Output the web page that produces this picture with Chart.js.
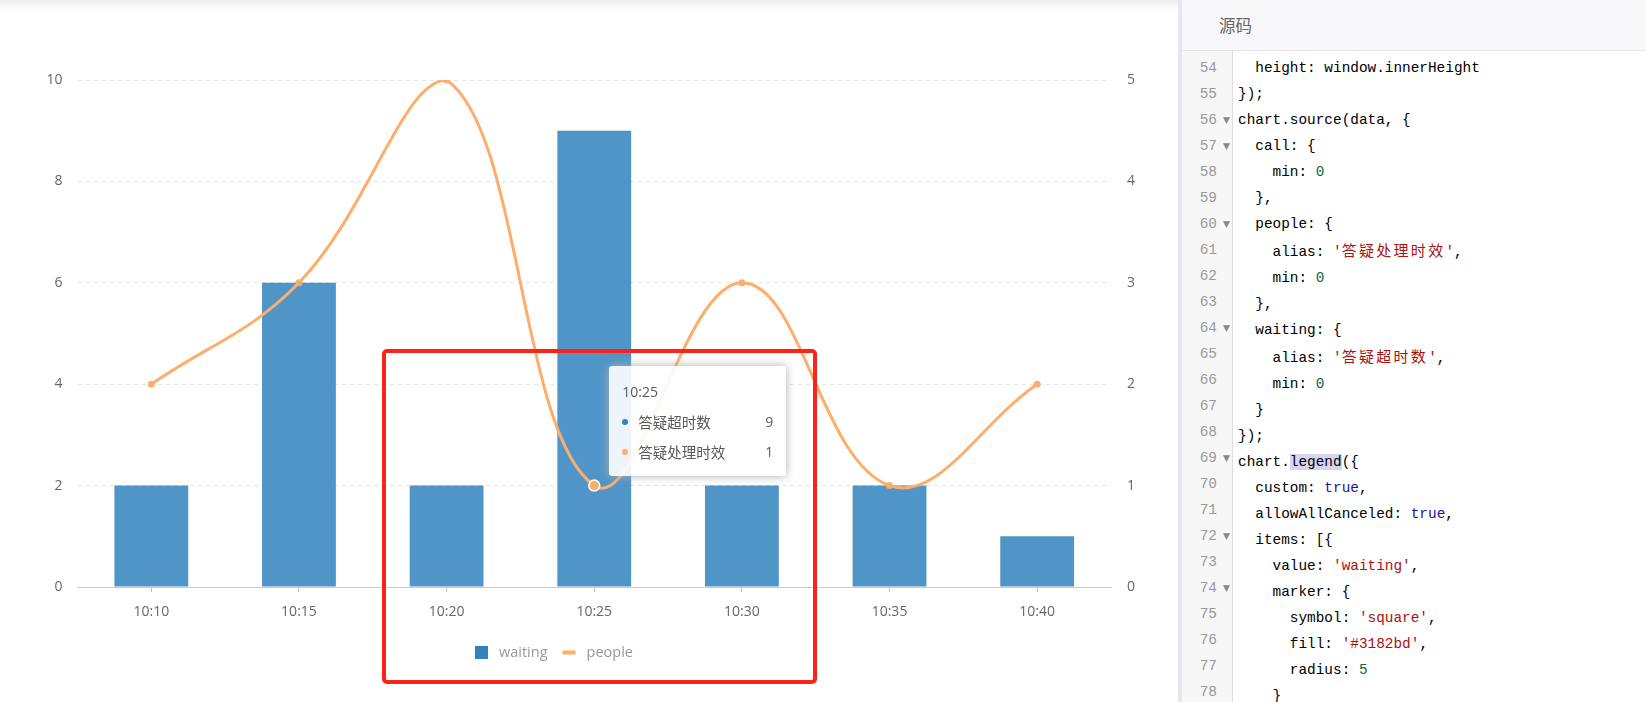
<!DOCTYPE html>
<html>
<head>
<meta charset="utf-8">
<script src="https://cdn.jsdelivr.net/npm/chart.js@4.4.0/dist/chart.umd.min.js"></script>
<style>
  html, body { margin: 0; padding: 0; background: #fff; overflow: hidden; }
  body { width: 1646px; height: 702px; position: relative; font-family: "Open Sans", "Noto Sans CJK SC", sans-serif; }
  #chart-box { position: absolute; left: 0; top: 0; width: 1178px; height: 702px; }
  #top-shade { position: absolute; left: 0; top: 0; width: 1178px; height: 10px;
    background: linear-gradient(#eeeeee, rgba(255,255,255,0)); pointer-events: none; }
  #mark { position: absolute; left: 382px; top: 349px; width: 435px; height: 335px; box-sizing: border-box;
    border: 4px solid #ff2218; border-radius: 5px; pointer-events: none; z-index: 5; }
  #tip { position: absolute; display: none; width: 177px; box-sizing: border-box; padding: 11px 13px 9px 13px;
    background: rgba(255,255,255,0.9); box-shadow: 0 0 10px #aeaeae; border-radius: 3px; color: #595959;
    font-family: "Noto Sans CJK SC", sans-serif; font-size: 14.5px; z-index: 4; }
  #tip .t { line-height: 30px; font-family: "Open Sans", sans-serif; font-size: 14px; }
  #tip .r { line-height: 30px; display: flex; align-items: center; }
  #tip .d { width: 6px; height: 6px; border-radius: 50%; margin-right: 10px; }
  #tip .n { flex: 1; }
  #tip .v { font-family: "Open Sans", sans-serif; font-size: 14px; }

  #panel { position: absolute; left: 1178px; top: 0; width: 468px; height: 702px; background: #fff; }
  #panel .strip { position: absolute; left: 0; top: 0; width: 4px; height: 702px; background: #e6e6ee; }
  #panel .head { position: absolute; left: 4px; top: 0; right: 0; height: 50px; background: #f8f8fa;
    border-bottom: 1px solid #e6e6e6; }
  #panel .head span { position: absolute; left: 37px; top: 13px; font-family: "Noto Sans CJK SC", sans-serif;
    font-size: 16.5px; color: #666; }
  #panel .gut { position: absolute; left: 4px; top: 51px; width: 50px; height: 651px; background: #f7f7f7;
    border-right: 1px solid #dedede; }
  #panel .nums, #panel .code { position: absolute; top: 55px; font-family: "Liberation Mono", monospace;
    font-size: 14.4px; line-height: 26px; }
  #panel .code div { white-space: pre; }
  #panel .nums { left: 4px; width: 35px; text-align: right; color: #999; }
  #panel .nums div { position: relative; height: 26px; }
  #panel .nums i { position: absolute; left: 41px; top: 0; font-style: normal; font-size: 9px; color: #888;
    font-family: "DejaVu Sans", sans-serif; }
  #panel .code { left: 60px; color: #000; }
  .s { color: #aa1111; }
  .m { color: #116644; }
  .a { color: #221199; }
  .cj { font-family: "Noto Sans CJK SC", sans-serif; font-size: 15px; letter-spacing: 2.3px; }
  .hl { background: #d8d4f0; }
</style>
</head>
<body>
<div id="chart-box"><canvas id="chart"></canvas></div>
<div id="top-shade"></div>
<div id="tip"></div>
<div id="mark"></div>

<div id="panel">
  <div class="strip"></div>
  <div class="head"><span>源码</span></div>
  <div class="gut"></div>
  <div class="nums"><div>54</div><div>55</div><div>56<i>▼</i></div><div>57<i>▼</i></div><div>58</div><div>59</div><div>60<i>▼</i></div><div>61</div><div>62</div><div>63</div><div>64<i>▼</i></div><div>65</div><div>66</div><div>67</div><div>68</div><div>69<i>▼</i></div><div>70</div><div>71</div><div>72<i>▼</i></div><div>73</div><div>74<i>▼</i></div><div>75</div><div>76</div><div>77</div><div>78</div></div>
  <div class="code"><div>  height: window.innerHeight</div><div>});</div><div>chart.source(data, {</div><div>  call: {</div><div>    min: <span class="m">0</span></div><div>  },</div><div>  people: {</div><div>    alias: <span class="s">'<span class="cj">答疑处理时效</span>'</span>,</div><div>    min: <span class="m">0</span></div><div>  },</div><div>  waiting: {</div><div>    alias: <span class="s">'<span class="cj">答疑超时数</span>'</span>,</div><div>    min: <span class="m">0</span></div><div>  }</div><div>});</div><div>chart.<span class="hl">legend</span>({</div><div>  custom: <span class="a">true</span>,</div><div>  allowAllCanceled: <span class="a">true</span>,</div><div>  items: [{</div><div>    value: <span class="s">'waiting'</span>,</div><div>    marker: {</div><div>      symbol: <span class="s">'square'</span>,</div><div>      fill: <span class="s">'#3182bd'</span>,</div><div>      radius: <span class="m">5</span></div><div>    }</div></div>
</div>

<script>
const times = ['10:10', '10:15', '10:20', '10:25', '10:30', '10:35', '10:40'];
const waiting = [2, 6, 2, 9, 2, 2, 1];
const people = [2, 3, 5, 1, 3, 1, 2];
const aliases = ['答疑超时数', '答疑处理时效'];
const leftTicks = { min: 0, max: 10, step: 2 };
const rightTicks = { min: 0, max: 5, step: 1 };

const BLUE = '#3182bd';
const BAR_FILL = 'rgba(49, 130, 189, 0.85)';
const ORANGE = '#fdae6b';
const FONT = '"Open Sans", sans-serif';

// legend is drawn by hand under the plot, g2 style: square for bars, dash for the line
const legendPlugin = {
    id: 'g2Legend',
    afterDraw(chart) {
        const ctx = chart.ctx;
        const y = 652.5;
        let x = 475;
        ctx.save();
        ctx.font = '14.5px ' + FONT;
        ctx.textBaseline = 'middle';
        chart.data.datasets.forEach(ds => {
            if (ds.type === 'bar') {
                ctx.fillStyle = BLUE;
                ctx.fillRect(x, y - 6.5, 13, 13);
            } else {
                ctx.strokeStyle = ORANGE;
                ctx.lineWidth = 4;
                ctx.beginPath();
                ctx.moveTo(x, y);
                ctx.lineTo(x + 13, y);
                ctx.stroke();
            }
            x += 24;
            ctx.fillStyle = '#999';
            ctx.fillText(ds.label, x, y);
            x += ctx.measureText(ds.label).width + 15;
        });
        ctx.restore();
    }
};

function renderTip(context) {
    const tip = document.getElementById('tip');
    const model = context.tooltip;
    if (!model || model.opacity === 0 || !model.dataPoints || !model.dataPoints.length) {
        tip.style.display = 'none';
        return;
    }
    let html = `<div class="t">${model.title[0]}</div>`;
    model.dataPoints.forEach(p => {
        const color = p.datasetIndex === 0 ? BLUE : ORANGE;
        html += `<div class="r"><span class="d" style="background:${color}"></span>` +
                `<span class="n">${aliases[p.datasetIndex]}</span><span class="v">${p.raw}</span></div>`;
    });
    tip.innerHTML = html;
    const linePoint = model.dataPoints.find(p => p.datasetIndex === 1);
    tip.style.left = (model.caretX + 15) + 'px';
    tip.style.top = (linePoint.element.y - 119.5) + 'px';
    tip.style.display = 'block';
}

const ctx = document.getElementById('chart').getContext('2d');
const chart = new Chart(ctx, {
    data: {
        labels: times,
        datasets: [{
            type: 'bar',
            label: 'waiting',
            data: waiting,
            yAxisID: 'y',
            backgroundColor: BAR_FILL,
            hoverBackgroundColor: BAR_FILL,
            borderWidth: 0,
            barPercentage: 0.5,
            categoryPercentage: 1,
            order: 2
        }, {
            type: 'line',
            label: 'people',
            data: people,
            yAxisID: 'y1',
            borderColor: ORANGE,
            borderWidth: 3,
            tension: 0.4,
            pointRadius: 3.5,
            pointBorderWidth: 0,
            pointBackgroundColor: ORANGE,
            pointHoverRadius: 5.5,
            pointHoverBackgroundColor: ORANGE,
            pointHoverBorderColor: '#fff',
            pointHoverBorderWidth: 1.5,
            order: 1
        }]
    },
    options: {
        responsive: true,
        maintainAspectRatio: false,
        animation: false,
        events: [],
        layout: { padding: { top: 80, left: 0, right: 0, bottom: 0 } },
        interaction: { mode: 'index', intersect: false },
        plugins: {
            legend: { display: false },
            tooltip: { enabled: false, mode: 'index', intersect: false, external: renderTip }
        },
        scales: {
            x: {
                offset: true,
                grid: { drawOnChartArea: false, drawTicks: true, tickLength: 5, offset: false, color: '#bfbfbf' },
                border: { display: true, color: '#cccccc', width: 1 },
                ticks: { color: '#666', font: { family: FONT, size: 14 }, padding: 12 },
                afterFit: s => { s.height = 115; }
            },
            y: {
                position: 'left',
                min: leftTicks.min,
                max: leftTicks.max,
                ticks: { stepSize: leftTicks.step, color: '#666', font: { family: FONT, size: 14 }, padding: 15 },
                grid: { color: '#e3e3e3', drawTicks: false, tickLength: 0 },
                border: { display: false, dash: [4, 4] },
                afterFit: s => { s.width = 77.5; }
            },
            y1: {
                position: 'right',
                min: rightTicks.min,
                max: rightTicks.max,
                ticks: { stepSize: rightTicks.step, color: '#666', font: { family: FONT, size: 14 }, padding: 16 },
                grid: { drawOnChartArea: false, drawTicks: false, tickLength: 0 },
                border: { display: false },
                afterFit: s => { s.width = 67; }
            }
        }
    },
    plugins: [legendPlugin]
});

// show the hover state on 10:25 like in the screenshot
const hoverIdx = times.indexOf('10:25');
const active = [{ datasetIndex: 0, index: hoverIdx }, { datasetIndex: 1, index: hoverIdx }];
const pt = chart.getDatasetMeta(1).data[hoverIdx];
chart.setActiveElements(active);
chart.tooltip.setActiveElements(active, { x: pt.x, y: pt.y });
chart.update('none');
</script>
</body>
</html>
